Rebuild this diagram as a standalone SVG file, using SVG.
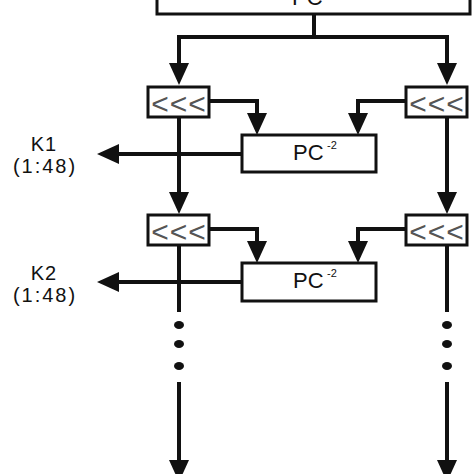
<svg xmlns="http://www.w3.org/2000/svg" width="474" height="474" viewBox="0 0 474 474">
<style>
.box{fill:#fff;stroke:#111;stroke-width:3}
.ln{fill:none;stroke:#111;stroke-width:4}
.arr{fill:none;stroke:#111;stroke-width:4;marker-end:url(#ah)}
.t{font-family:"Liberation Sans",Arial,sans-serif;fill:#111}
.sh{font-family:"Liberation Sans",Arial,sans-serif;fill:#555;font-size:30px;letter-spacing:1px}
.lab{font-family:"Liberation Sans",Arial,sans-serif;fill:#111;font-size:20px;text-anchor:middle}
</style>
<defs>
<marker id="ah" markerUnits="userSpaceOnUse" markerWidth="22" markerHeight="20" refX="0" refY="10" orient="auto" overflow="visible">
<path d="M0,0 L22,10 L0,20 Z" fill="#111"/>
</marker>
</defs>
<rect width="474" height="474" fill="#fff"/>

<g id="connectors">
<path class="ln" d="M314,14 V37"/>
<path class="ln" d="M179,37 H447"/>
<path class="arr" d="M179,35 V63"/>
<path class="arr" d="M447,35 V63"/>
<!-- row 1 -->
<path class="arr" d="M209,101 H257 V113"/>
<path class="arr" d="M406,101 H358 V113"/>
<path class="arr" d="M242,154 H119"/>
<path class="arr" d="M179,117 V192"/>
<path class="arr" d="M447,117 V192"/>
<!-- row 2 -->
<path class="arr" d="M209,229 H257 V241"/>
<path class="arr" d="M406,229 H358 V241"/>
<path class="arr" d="M242,282 H119"/>
<path class="ln" d="M179,245 V312"/>
<path class="ln" d="M447,245 V312"/>
<g fill="#111">
<ellipse cx="179" cy="325" rx="5" ry="4"/>
<ellipse cx="179" cy="344" rx="5" ry="4"/>
<ellipse cx="179" cy="366" rx="5" ry="4"/>
<ellipse cx="447" cy="325" rx="5" ry="4"/>
<ellipse cx="447" cy="344" rx="5" ry="4"/>
<ellipse cx="447" cy="366" rx="5" ry="4"/>
</g>
<path class="arr" d="M179,382 V460"/>
<path class="arr" d="M447,382 V460"/>
</g>

<g id="pc-top">
<rect class="box" x="157" y="-20" width="313" height="34"/>
<text class="t" x="292" y="5" font-size="22">PC</text>
</g>

<g id="shift-l1">
<rect class="box" x="148" y="87" width="61" height="30"/>
<text class="sh" x="179" y="114" text-anchor="middle">&lt;&lt;&lt;</text>
</g>
<g id="shift-r1">
<rect class="box" x="406" y="87" width="61" height="30"/>
<text class="sh" x="437" y="114" text-anchor="middle">&lt;&lt;&lt;</text>
</g>
<g id="pc2-1">
<rect class="box" x="242" y="135" width="134" height="37"/>
<text class="t" font-size="22"><tspan x="293" y="160">PC</tspan><tspan x="327" y="149" font-size="11">-2</tspan></text>
</g>
<g id="k1">
<text class="lab" x="44" y="151" letter-spacing="1">K1</text>
<text class="lab" x="45" y="173" letter-spacing="2">(1:48)</text>
</g>

<g id="shift-l2">
<rect class="box" x="148" y="215" width="61" height="30"/>
<text class="sh" x="179" y="242" text-anchor="middle">&lt;&lt;&lt;</text>
</g>
<g id="shift-r2">
<rect class="box" x="406" y="215" width="61" height="30"/>
<text class="sh" x="437" y="242" text-anchor="middle">&lt;&lt;&lt;</text>
</g>
<g id="pc2-2">
<rect class="box" x="242" y="263" width="134" height="38"/>
<text class="t" font-size="22"><tspan x="293" y="288">PC</tspan><tspan x="327" y="277" font-size="11">-2</tspan></text>
</g>
<g id="k2">
<text class="lab" x="44" y="280" letter-spacing="1">K2</text>
<text class="lab" x="45" y="302" letter-spacing="2">(1:48)</text>
</g>
</svg>
